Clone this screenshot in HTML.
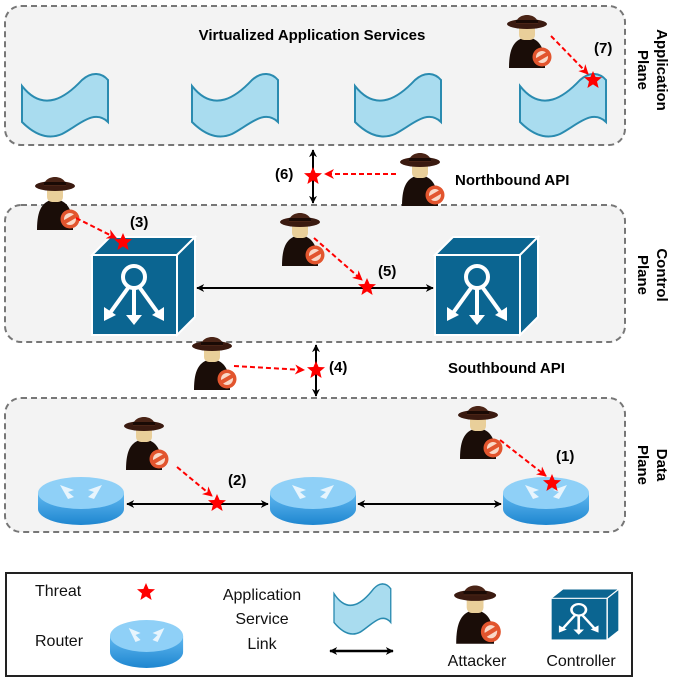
<!DOCTYPE html>
<html><head><meta charset="utf-8"><style>
html,body{margin:0;padding:0;background:#fff;}
svg{display:block;font-family:"Liberation Sans",Arial,sans-serif;}
.b{font-weight:bold;font-size:15px;fill:#000}
.n{font-size:16px;fill:#111}
</style></head><body>
<svg width="685" height="681" viewBox="0 0 685 681" xmlns="http://www.w3.org/2000/svg">
<defs>
<marker id="ah" viewBox="0 0 10 10" refX="9" refY="5" markerWidth="8" markerHeight="8" orient="auto-start-reverse" markerUnits="userSpaceOnUse"><path d="M0,0 L10,5 L0,10 L3,5 Z" fill="#000"/></marker>
<marker id="rh" viewBox="0 0 10 10" refX="9" refY="5" markerWidth="10" markerHeight="10" orient="auto" markerUnits="userSpaceOnUse"><path d="M0,0 L10,5 L0,10 L3,5 Z" fill="#f00"/></marker>
<g id="star"><polygon points="0,-9 2.6,-3 9,-2.8 4,1.5 5.6,8 0,4.4 -5.6,8 -4,1.5 -9,-2.8 -2.6,-3" fill="#f00"/></g>
<g id="att">
<path d="M4,58 C4,38 9,29 22,27 C35,29 40,38 40,58 Z" fill="#1a0d08"/>
<rect x="14" y="14" width="16" height="16" rx="5" fill="#e9cf9a"/>
<ellipse cx="22" cy="14" rx="20" ry="5" fill="#3a1a10"/>
<path d="M11,14 C11,2 33,2 33,14 Z" fill="#4a2416"/>
<rect x="11" y="10" width="22" height="3" fill="#1a0a05"/>
<circle cx="37" cy="47" r="9.5" fill="#e2552e"/>
<circle cx="37" cy="47" r="6" fill="#f9d9c8"/>
<rect x="30" y="45" width="14" height="4" fill="#e2552e" transform="rotate(-30 37 47)"/>
</g>
<g id="ctl">
<polygon points="0,18 18,0 103,0 85,18" fill="#0b6591" stroke="#fff" stroke-width="2"/>
<polygon points="85,18 103,0 103,80 85,98" fill="#0b6591" stroke="#fff" stroke-width="2"/>
<rect x="0" y="18" width="85" height="80" fill="#0b6591" stroke="#fff" stroke-width="2"/>
<circle cx="42" cy="40" r="11" fill="none" stroke="#fff" stroke-width="4"/>
<g stroke="#fff" stroke-width="4" fill="none"><path d="M42,51 L42,82"/><path d="M36,51 L18,76"/><path d="M48,51 L66,76"/></g>
<g fill="#fff"><polygon points="34,78 50,78 42,88"/><polygon points="12,70 24,78 12,84"/><polygon points="72,70 60,78 72,84"/></g>
</g>
<linearGradient id="rg" x1="0" x2="0" y1="0" y2="1"><stop offset="0" stop-color="#5fb7ef"/><stop offset="1" stop-color="#1e86d0"/></linearGradient>
<g id="rt">
<path d="M0,16 L0,32 A43,16 0 0 0 86,32 L86,16 Z" fill="url(#rg)"/>
<ellipse cx="43" cy="16" rx="43" ry="16" fill="#8fd0f7"/>
<g fill="#e8f5fd"><polygon points="22,8 36,13 30,15 36,20 30,22"/><polygon points="64,8 50,13 56,15 50,20 56,22"/></g>
</g>
<path id="wv" d="M0,12 C22,40 45,22 60,6 C70,-3 80,-1 86,6 L86,48 C72,34 56,52 40,60 C24,67 10,58 0,48 Z" fill="#a9dcef" stroke="#2a8bb0" stroke-width="2"/>
</defs>

<rect x="5" y="6" width="620" height="139" rx="16" fill="#f3f3f3" stroke="#777" stroke-width="2" stroke-dasharray="6,4"/>
<rect x="5" y="205" width="620" height="137" rx="16" fill="#f3f3f3" stroke="#777" stroke-width="2" stroke-dasharray="6,4"/>
<rect x="5" y="398" width="620" height="134" rx="16" fill="#f3f3f3" stroke="#777" stroke-width="2" stroke-dasharray="6,4"/>

<text x="312" y="40" class="b" text-anchor="middle" font-size="16">Virtualized Application Services</text>
<g transform="translate(657,70) rotate(90)"><text class="b" text-anchor="middle" font-size="16">Application</text></g>
<g transform="translate(638,70) rotate(90)"><text class="b" text-anchor="middle" font-size="16">Plane</text></g>
<g transform="translate(657,275) rotate(90)"><text class="b" text-anchor="middle" font-size="16">Control</text></g>
<g transform="translate(638,275) rotate(90)"><text class="b" text-anchor="middle" font-size="16">Plane</text></g>
<g transform="translate(657,465) rotate(90)"><text class="b" text-anchor="middle" font-size="16">Data</text></g>
<g transform="translate(638,465) rotate(90)"><text class="b" text-anchor="middle" font-size="16">Plane</text></g>

<use href="#wv" x="22" y="74"/><use href="#wv" x="192" y="74"/><use href="#wv" x="355" y="74"/><use href="#wv" x="520" y="74"/>
<use href="#att" x="505" y="10"/>
<line x1="551" y1="36" x2="588" y2="74" stroke="#f00" stroke-width="2" stroke-dasharray="5,3" marker-end="url(#rh)"/>
<use href="#star" x="593" y="80"/>
<text x="594" y="53" class="b">(7)</text>

<line x1="313" y1="150" x2="313" y2="203" stroke="#000" stroke-width="2" marker-start="url(#ah)" marker-end="url(#ah)"/>
<use href="#star" x="313" y="176"/>
<line x1="396" y1="174" x2="325" y2="174" stroke="#f00" stroke-width="2" stroke-dasharray="5,3" marker-end="url(#rh)"/>
<use href="#att" x="398" y="148"/>
<text x="275" y="179" class="b">(6)</text>
<text x="455" y="185" class="b" font-size="16">Northbound API</text>

<use href="#ctl" x="92" y="237"/><use href="#ctl" x="435" y="237"/>
<line x1="197" y1="288" x2="433" y2="288" stroke="#000" stroke-width="2" marker-start="url(#ah)" marker-end="url(#ah)"/>
<use href="#star" x="367" y="287"/>
<use href="#att" x="278" y="208"/>
<line x1="314" y1="238" x2="362" y2="280" stroke="#f00" stroke-width="2" stroke-dasharray="5,3" marker-end="url(#rh)"/>
<text x="378" y="276" class="b">(5)</text>
<use href="#att" x="33" y="172"/>
<line x1="76" y1="218" x2="116" y2="238" stroke="#f00" stroke-width="2" stroke-dasharray="5,3" marker-end="url(#rh)"/>
<use href="#star" x="123" y="242"/>
<text x="130" y="227" class="b">(3)</text>

<line x1="316" y1="345" x2="316" y2="396" stroke="#000" stroke-width="2" marker-start="url(#ah)" marker-end="url(#ah)"/>
<use href="#star" x="316" y="370"/>
<use href="#att" x="190" y="332"/>
<line x1="234" y1="366" x2="304" y2="370" stroke="#f00" stroke-width="2" stroke-dasharray="5,3" marker-end="url(#rh)"/>
<text x="329" y="372" class="b">(4)</text>
<text x="448" y="373" class="b" font-size="16">Southbound API</text>

<use href="#rt" x="38" y="477"/><use href="#rt" x="270" y="477"/><use href="#rt" x="503" y="477"/>
<line x1="127" y1="504" x2="268" y2="504" stroke="#000" stroke-width="2" marker-start="url(#ah)" marker-end="url(#ah)"/>
<line x1="358" y1="504" x2="501" y2="504" stroke="#000" stroke-width="2" marker-start="url(#ah)" marker-end="url(#ah)"/>
<use href="#star" x="217" y="503"/>
<use href="#att" x="122" y="412"/>
<line x1="177" y1="467" x2="212" y2="496" stroke="#f00" stroke-width="2" stroke-dasharray="5,3" marker-end="url(#rh)"/>
<text x="228" y="485" class="b">(2)</text>
<use href="#att" x="456" y="401"/>
<line x1="500" y1="440" x2="546" y2="476" stroke="#f00" stroke-width="2" stroke-dasharray="5,3" marker-end="url(#rh)"/>
<use href="#star" x="552" y="483"/>
<text x="556" y="461" class="b">(1)</text>

<rect x="6" y="573" width="626" height="103" fill="#fff" stroke="#222" stroke-width="2"/>
<text x="35" y="596" class="n">Threat</text>
<use href="#star" x="146" y="592"/>
<text x="35" y="646" class="n">Router</text>
<g transform="translate(110,620) scale(0.85,1)"><use href="#rt"/></g>
<text x="262" y="600" class="n" text-anchor="middle">Application</text>
<text x="262" y="624" class="n" text-anchor="middle">Service</text>
<text x="262" y="649" class="n" text-anchor="middle">Link</text>
<g transform="translate(334,584) scale(0.66,0.8)"><use href="#wv"/></g>
<line x1="330" y1="651" x2="393" y2="651" stroke="#000" stroke-width="2.5" marker-start="url(#ah)" marker-end="url(#ah)"/>
<g transform="translate(452,580) scale(1.05,1.1)"><use href="#att"/></g>
<text x="477" y="666" class="n" text-anchor="middle">Attacker</text>
<g transform="translate(551,589) scale(0.66,0.52)"><use href="#ctl"/></g>
<text x="581" y="666" class="n" text-anchor="middle">Controller</text>
</svg>
</body></html>
